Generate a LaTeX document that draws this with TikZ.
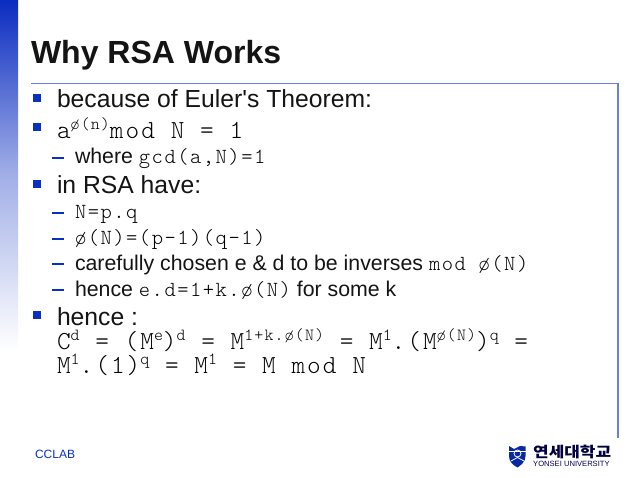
\documentclass[tikz,border=0pt]{standalone}
\usepackage{fontspec}
\setmainfont{Liberation Sans}
\newfontfamily\plainsans{Liberation Sans}
\newfontfamily\cjk{Noto Sans CJK KR}
\newfontfamily\monolg[LetterSpace=7]{Latin Modern Mono Light}
\newfontfamily\monolh[LetterSpace=8]{Latin Modern Mono Light}
\newcommand{\mt}[1]{{\monolh\fontsize{26}{26}\selectfont\color{monoc}#1}}
\newcommand{\ms}[1]{{\monolg\fontsize{21.5}{25}\selectfont\color{monoc}#1}}
\newcommand{\up}[1]{\raisebox{9pt}{\monolg\fontsize{17}{15}\selectfont\color{monoc}#1}}
\definecolor{monoc}{HTML}{000000}
\definecolor{barblue}{HTML}{0A2CC0}
\definecolor{rulec}{HTML}{6A80D8}
\definecolor{bulletc}{HTML}{0A30C0}
\tikzset{
  txt/.style={anchor=base west,inner sep=0pt,outer sep=0pt,text=black!92},
  lvlone/.style={txt,font=\fontsize{24.7}{25}\selectfont},
  lvltwo/.style={txt,font=\fontsize{21.3}{25}\selectfont},
  blt/.style={fill=bulletc,minimum size=8pt,inner sep=0pt,draw=none,rectangle},
  dashmark/.style={fill=bulletc,minimum width=11.5pt,minimum height=1.8pt,inner sep=0pt,rectangle},
}
\begin{document}
\begin{tikzpicture}[x=1pt,y=-1pt]
\useasboundingbox (0,0) rectangle (638,478);
\fill[white] (0,0) rectangle (638,478);
\shade[top color=barblue,bottom color=white,middle color=barblue!38] (0,0) rectangle (18,350);
\draw[rulec,line width=1.1pt] (31,83.5) -- (618,83.5) -- (618,438);
\node[txt,font=\bfseries\fontsize{32}{32}\selectfont] (title) at (31,63.5) {Why RSA Works};
\node[blt] (b1) at (37,98.5) {};
\node[lvlone] (t1) at (57,108) {because of Euler{\plainsans'}s Theorem:};
\node[blt] (b2) at (37,127.5) {};
\node[txt] (t2) at (57,138.5) {\mt{a}\up{ø(n)}\mt{mod N = 1}};
\node[dashmark] (d1) at (58,158) {};
\node[lvltwo] (t3) at (75,164) {where \ms{gcd(a,N)=1}};
\node[blt] (b3) at (37,184) {};
\node[lvlone] (t4) at (57,194) {in RSA have:};
\node[dashmark] (d2) at (58,213) {};
\node[txt] (t5) at (75,219) {\ms{N=p.q}};
\node[dashmark] (d3) at (58,239) {};
\node[txt] (t6) at (75,245) {\ms{ø(N)=(p-1)(q-1)}};
\node[dashmark] (d4) at (58,264) {};
\node[lvltwo] (t7) at (75,271) {carefully chosen e \& d to be inverses \ms{mod ø(N)}};
\node[dashmark] (d5) at (58,290) {};
\node[lvltwo] (t8) at (75,297) {hence \ms{e.d=1+k.ø(N)} for some k};
\node[blt] (b4) at (37,315) {};
\node[lvlone] (t9) at (57,326) {hence :};
\node[txt] (t10) at (57,349.5) {\mt{C}\up{d}\mt{\ = (M}\up{e}\mt{)}\up{d}\mt{\ = M}\up{1+k.ø(N)}\mt{\ = M}\up{1}\mt{.(M}\up{ø(N)}\mt{)}\up{q}\mt{\ =}};
\node[txt] (t11) at (57,374) {\mt{M}\up{1}\mt{.(1)}\up{q}\mt{\ = M}\up{1}\mt{\ = M mod N}};
\node[txt,text=bulletc,font=\fontsize{12}{12}\selectfont] (cc) at (35,459) {CCLAB};
% logo
\fill[bulletc!85!black] (509,446) -- (514,449) -- (520,446) -- (525.5,446.5) -- (525.5,456) .. controls (525.5,462) and (521,465) .. (517.5,467.5) .. controls (513,465) and (509,462) .. (509,456) -- cycle;
\draw[white,line width=0.8pt] (517.5,453.5) circle (3.5pt);
\draw[white,line width=0.8pt] (511,461) -- (517.5,457.5) -- (524,461);
\fill[white] (509,451) rectangle (525.5,452);
\node[anchor=base west,inner sep=0pt,text=black!75!blue,font=\cjk\bfseries\fontsize{14.6}{15}\selectfont,xscale=1.16] (kr) at (533,458) {연세대학교};
\node[anchor=base west,inner sep=0pt,text=black!65!blue,font=\fontsize{7.6}{8}\selectfont] (en) at (533,466.5) {YONSEI UNIVERSITY};
\end{tikzpicture}
\end{document}
